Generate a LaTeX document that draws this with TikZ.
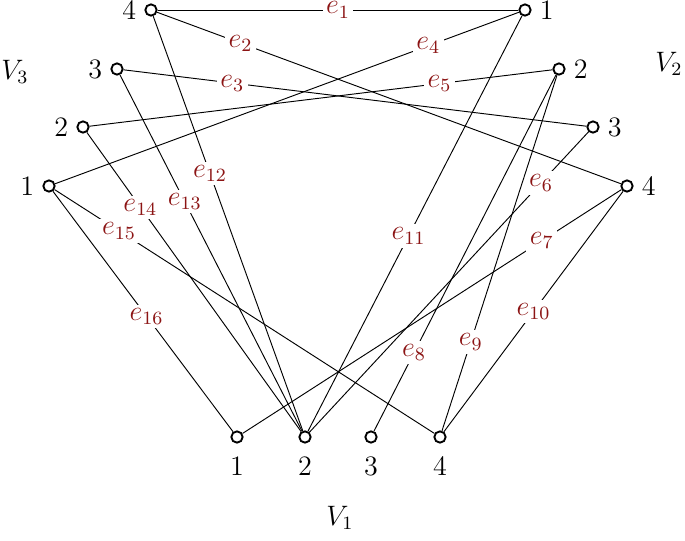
\documentclass[tikz,border=0pt]{standalone}
\usetikzlibrary{positioning}
\definecolor{edgered}{RGB}{140,20,20}

\begin{document}
\begin{tikzpicture}[
    x=0.015cm, y=-0.015cm,
    vertex/.style={circle, draw, line width=0.8pt, minimum size=0.17cm, inner sep=0pt},
    elabel/.style={fill=white, text=edgered, inner sep=1.5pt, font=\large},
    every label/.style={font=\large, label distance=0pt}
]
\useasboundingbox (0,0) rectangle (685,540);

% Set V3
\node[vertex, label=left:4] (u4) at (151,10) {};
\node[vertex, label=left:3] (u3) at (117,69) {};
\node[vertex, label=left:2] (u2) at (83,127) {};
\node[vertex, label=left:1] (u1) at (49,186) {};

% Set V2
\node[vertex, label=right:1] (w1) at (525,10) {};
\node[vertex, label=right:2] (w2) at (559,69) {};
\node[vertex, label=right:3] (w3) at (593,127) {};
\node[vertex, label=right:4] (w4) at (627,186) {};

% Set V1
\node[vertex, label={[label distance=2pt]below:1}] (v1) at (237,437) {};
\node[vertex, label={[label distance=2pt]below:2}] (v2) at (305,437) {};
\node[vertex, label={[label distance=2pt]below:3}] (v3) at (371,437) {};
\node[vertex, label={[label distance=2pt]below:4}] (v4) at (440,437) {};

% Set names
\node[font=\large] (V3) at (15,72) {$V_3$};
\node[font=\large] (V2) at (669,64) {$V_2$};
\node[font=\large] (V1) at (340,518) {$V_1$};

% Edges
\draw (u4) -- node[elabel, pos=0.5] {$e_1$} (w1);
\draw (u4) -- node[elabel, pos=0.18] {$e_2$} (w4);
\draw (u3) -- node[elabel, pos=0.235] {$e_3$} (w3);
\draw (w1) -- node[elabel, pos=0.195] {$e_4$} (u1);
\draw (w2) -- node[elabel, pos=0.244] {$e_5$} (u2);
\draw (w3) -- node[elabel, pos=0.17] {$e_6$} (v2);
\draw (w4) -- node[elabel, pos=0.21] {$e_7$} (v1);
\draw (w2) -- node[elabel, pos=0.78] {$e_8$} (v3);
\draw (w2) -- node[elabel, pos=0.75] {$e_9$} (v4);
\draw (w4) -- node[elabel, pos=0.5] {$e_{10}$} (v4);
\draw (w1) -- node[elabel, pos=0.53] {$e_{11}$} (v2);
\draw (u4) -- node[elabel, pos=0.38] {$e_{12}$} (v2);
\draw (u3) -- node[elabel, pos=0.356] {$e_{13}$} (v2);
\draw (u2) -- node[elabel, pos=0.25] {$e_{14}$} (v2);
\draw (u1) -- node[elabel, pos=0.17] {$e_{15}$} (v4);
\draw (u1) -- node[elabel, pos=0.52] {$e_{16}$} (v1);

\end{tikzpicture}
\end{document}
